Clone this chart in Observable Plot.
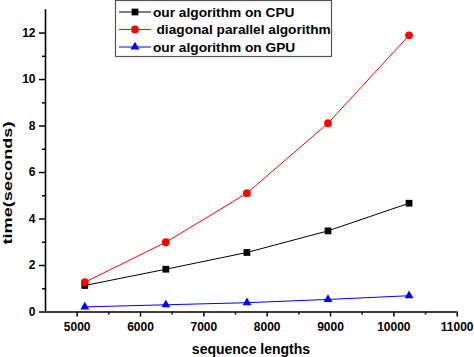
<!DOCTYPE html>
<html>
<head>
<meta charset="utf-8">
<script src="https://cdn.jsdelivr.net/npm/d3@7"></script>
<script src="https://cdn.jsdelivr.net/npm/@observablehq/plot@0.6"></script>
<style>
  html, body { margin: 0; padding: 0; background: #fff; }
  svg { display: block; }
</style>
</head>
<body>
<script>
const lengths = [5120, 6400, 7680, 8960, 10240];
const cpuTimes = [1.14, 1.84, 2.56, 3.49, 4.68];
const diagonalTimes = [1.28, 3.0, 5.11, 8.12, 11.9];
const gpuTimes = [0.22, 0.31, 0.40, 0.54, 0.70];

const seriesNames = ["our algorithm on CPU", "diagonal parallel algorithm", "our algorithm on GPU"];
const seriesColors = ["#000000", "#ff0000", "#0000ff"];
const seriesSymbols = ["square", "circle", "triangle"];
const seriesR = [3.8, 3.9, 3.3];

const xMajorTicks = [5000, 6000, 7000, 8000, 9000, 10000, 11000];
const xMinorTicks = [5500, 6500, 7500, 8500, 9500, 10500];
const yMajorTicks = [0, 2, 4, 6, 8, 10, 12];
const yMinorTicks = [1, 3, 5, 7, 9, 11];

const xTitle = "sequence lengths";
const yTitle = "time(seconds)";

const allSeries = [cpuTimes, diagonalTimes, gpuTimes];
const rows = allSeries.flatMap((vals, s) =>
  lengths.map((len, i) => ({len, t: vals[i], s}))
);

const font = "'Liberation Sans', Arial, sans-serif";

const marks = [
  Plot.ruleX([4500], {stroke: "#000", strokeWidth: 1.6}),
  Plot.ruleY([0], {stroke: "#000", strokeWidth: 1.6}),
  Plot.axisX({ticks: xMajorTicks, tickSize: 5, tickPadding: 5, tickFormat: d => String(d), label: null, strokeWidth: 1.5}),
  Plot.axisX({ticks: xMinorTicks, tickSize: 3, text: null, label: null, strokeWidth: 1.5}),
  Plot.axisY({ticks: yMajorTicks, tickSize: 6, tickPadding: 4, tickFormat: d => String(d), label: null, strokeWidth: 1.5}),
  Plot.axisY({ticks: yMinorTicks, tickSize: 3, text: null, label: null, strokeWidth: 1.5})
];
allSeries.forEach((vals, s) => {
  const d = rows.filter(r => r.s === s);
  marks.push(Plot.line(d, {x: "len", y: "t", stroke: seriesColors[s], strokeWidth: 1}));
});
allSeries.forEach((vals, s) => {
  const d = rows.filter(r => r.s === s);
  marks.push(Plot.dot(d, {x: "len", y: "t", symbol: () => seriesSymbols[s], fill: seriesColors[s], r: seriesR[s], stroke: "none"}));
});

const chart = Plot.plot({
  width: 474,
  height: 357,
  marginLeft: 45,
  marginRight: 17.3,
  marginTop: 9.3,
  marginBottom: 45.5,
  x: {domain: [4500, 11000]},
  y: {domain: [0, 13]},
  style: {fontFamily: font, fontSize: "12px", fontWeight: "bold", color: "#000", background: "#fff", overflow: "visible"},
  marks
});
document.body.appendChild(chart);

// Titles and legend
const svg = d3.select(chart);
svg.append("text")
  .attr("transform", "translate(7.5,183) rotate(-90)")
  .attr("text-anchor", "middle")
  .attr("dominant-baseline", "central")
  .attr("font-family", font)
  .attr("font-size", 12.5)
  .attr("font-weight", "bold")
  .attr("textLength", 123)
  .attr("lengthAdjust", "spacingAndGlyphs")
  .text(yTitle);
svg.append("text")
  .attr("x", 251)
  .attr("y", 353.5)
  .attr("text-anchor", "middle")
  .attr("font-family", font)
  .attr("font-size", 14)
  .attr("font-weight", "bold")
  .text(xTitle);

const lg = svg.append("g");
lg.append("rect")
  .attr("x", 115.5).attr("y", 0.5).attr("width", 216).attr("height", 56)
  .attr("fill", "#fff").attr("stroke", "#555").attr("stroke-width", 1.2);
const rowY = [12, 29.5, 47];
const symMap = {square: d3.symbolSquare, circle: d3.symbolCircle, triangle: d3.symbolTriangle};
seriesNames.forEach((name, i) => {
  const g = lg.append("g").attr("transform", `translate(0,${rowY[i]})`);
  g.append("line").attr("x1", 119).attr("x2", 151).attr("y1", 0).attr("y2", 0)
    .attr("stroke", seriesColors[i]).attr("stroke-width", 1);
  g.append("path")
    .attr("transform", "translate(135,0)")
    .attr("d", d3.symbol(symMap[seriesSymbols[i]], Math.PI * seriesR[i] * seriesR[i])())
    .attr("fill", seriesColors[i]);
  g.append("text")
    .attr("x", i === 1 ? 156.5 : 153)
    .attr("y", 0)
    .attr("dy", "0.36em")
    .attr("text-anchor", "start")
    .attr("font-family", font)
    .attr("font-size", 13.7)
    .attr("font-weight", "bold")
    .text(name);
});
</script>
</body>
</html>
